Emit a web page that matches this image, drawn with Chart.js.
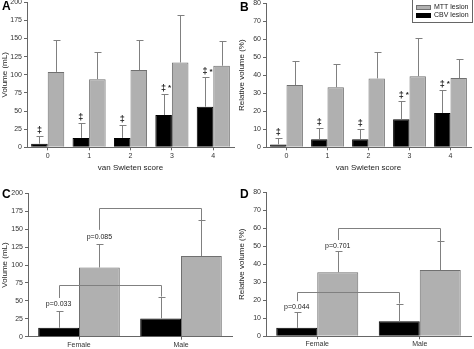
<!DOCTYPE html>
<html>
<head>
<meta charset="utf-8">
<script src="https://cdn.jsdelivr.net/npm/chart.js@4.4.0/dist/chart.umd.min.js"></script>
<style>
  body { margin: 0; background: #fff; width: 474px; height: 349px; overflow: hidden; position: relative; font-family: 'Liberation Sans', Arial, sans-serif; }
  canvas { position: absolute; }
  .letter { position: absolute; font-weight: bold; font-size: 12px; line-height: 12px; color: #000; }
  #legend { position: absolute; left: 412px; top: -1px; width: 59px; height: 22px; border: 1px solid #666; background: #fff; font-size: 7px; color: #222; }
  #legend .row { position: absolute; left: 3px; height: 8px; line-height: 8px; white-space: nowrap; }
  #legend .sw { display: inline-block; width: 13px; height: 3px; margin-right: 3px; vertical-align: middle; }
</style>
</head>
<body>
<canvas id="chartA" width="237" height="175" style="left:0;top:0"></canvas>
<canvas id="chartB" width="237" height="175" style="left:237px;top:0"></canvas>
<canvas id="chartC" width="237" height="174" style="left:0;top:175px"></canvas>
<canvas id="chartD" width="237" height="174" style="left:237px;top:175px"></canvas>

<div class="letter" style="left:2px;top:0">A</div>
<div class="letter" style="left:240px;top:1px">B</div>
<div class="letter" style="left:2px;top:188px">C</div>
<div class="letter" style="left:240px;top:188px">D</div>

<div id="legend">
  <div class="row" style="top:3px"><span class="sw" style="background:#b0b0b0;border:1px solid #707070"></span>MTT lesion</div>
  <div class="row" style="top:11px"><span class="sw" style="background:#000;border:1px solid #000"></span>CBV lesion</div>
</div>

<script>
// van Swieten score groups
const scores = ['0', '1', '2', '3', '4'];
const sexes = ['Female', 'Male'];

// A: absolute volume (mL) by score
const cbvVolScore = [5, 13, 13, 44.5, 56];
const cbvVolScoreErr = [15.5, 33, 30.5, 73.5, 96.5];
const mttVolScore = [104, 94, 106.5, 117, 112.5];
const mttVolScoreErr = [147.5, 132, 147.5, 183, 147];

// B: relative volume (%) by score
const cbvRelScore = [1.6, 4.4, 4.4, 15.5, 19];
const cbvRelScoreErr = [4.9, 10.5, 10.4, 25.9, 32];
const mttRelScore = [34.5, 33.3, 38.2, 39.4, 38.4];
const mttRelScoreErr = [48.1, 46.4, 52.9, 60.4, 48.8];

// markers above the CBV bars
const scoreMarks = ['‡', '‡', '‡', '‡*', '‡*'];

// C: absolute volume (mL) by sex
const cbvVolSex = [12.5, 25.5];
const cbvVolSexErr = [36.5, 56];
const mttVolSex = [96.5, 112.5];
const mttVolSexErr = [129.5, 162.5];
const bracketLevelC = [72, 180];
const bracketLeftEndC = [54, 149];
const bracketRightEndC = [56, 162.5];
const pTextC = ['p=0.033', 'p=0.085'];
const pAtC = [45.6, 138.6];

// D: relative volume (%) by sex
const cbvRelSex = [4.7, 8.3];
const cbvRelSexErr = [13.6, 18.2];
const mttRelSex = [35.6, 36.8];
const mttRelSexErr = [47.4, 52.8];
const bracketLevelD = [24.4, 60];
const bracketLeftEndD = [19.5, 53.5];
const bracketRightEndD = [18.2, 52.8];
const pTextD = ['p=0.044', 'p=0.701'];
const pAtD = [16.5, 50.3];

const FONT = "'Liberation Sans', Arial, sans-serif";
const AXIS = '#666';
const GREY = '#b0b0b0';
const GREY_EDGE = '#707070';
const ERR = '#808080';

const crisp = v => Math.round(v) + 0.5;

// error bars, significance marks, brackets and p values
const extrasPlugin = {
  id: 'extras',
  afterDatasetsDraw(chart, args, opts) {
    const { ctx } = chart;
    const y = chart.scales.y;
    ctx.save();
    ctx.lineWidth = 1;
    ctx.strokeStyle = ERR;

    chart.data.datasets.forEach((ds, di) => {
      const meta = chart.getDatasetMeta(di);
      meta.data.forEach((bar, i) => {
        const x = crisp(bar.x);
        const yt = crisp(y.getPixelForValue(ds.errorTop[i]));
        ctx.beginPath();
        ctx.moveTo(x, bar.y);
        ctx.lineTo(x, yt);
        ctx.moveTo(x - 3, yt);
        ctx.lineTo(x + 4, yt);
        ctx.stroke();
      });
    });

    if (opts.marks) {
      const ds = chart.data.datasets[0];
      const meta = chart.getDatasetMeta(0);
      ctx.fillStyle = '#222';
      ctx.textBaseline = 'bottom';
      ctx.textAlign = 'center';
      opts.marks.forEach((m, i) => {
        const bar = meta.data[i];
        const yt = y.getPixelForValue(ds.errorTop[i]) - 1;
        ctx.font = 'bold 9px ' + FONT;
        ctx.fillText('‡', bar.x, yt);
        if (m.includes('*')) {
          ctx.font = 'bold 8px ' + FONT;
          ctx.fillText('*', bar.x + 6, yt - 1);
        }
      });
    }

    if (opts.brackets) {
      const b = opts.brackets;
      ctx.strokeStyle = ERR;
      b.level.forEach((lvl, k) => {
        const meta = chart.getDatasetMeta(k);
        const lx = crisp(meta.data[0].x);
        const rx = crisp(meta.data[1].x);
        const ly = crisp(y.getPixelForValue(lvl));
        ctx.beginPath();
        ctx.moveTo(lx, y.getPixelForValue(b.leftEnd[k]));
        ctx.lineTo(lx, ly);
        ctx.lineTo(rx, ly);
        ctx.lineTo(rx, y.getPixelForValue(b.rightEnd[k]));
        ctx.stroke();
      });
      ctx.fillStyle = '#222';
      ctx.font = '7px ' + FONT;
      ctx.textAlign = 'center';
      ctx.textBaseline = 'middle';
      b.text.forEach((t, k) => {
        const bar = chart.getDatasetMeta(k).data[0];
        ctx.fillText(t, bar.x, y.getPixelForValue(b.at[k]));
      });
    }
    ctx.restore();
  }
};

function makePanel(id, cfg) {
  return new Chart(document.getElementById(id), {
    type: 'bar',
    data: {
      labels: cfg.labels,
      datasets: [
        { label: 'CBV lesion', data: cfg.cbv, errorTop: cfg.cbvErr, backgroundColor: '#000', borderColor: '#000', borderWidth: 1 },
        { label: 'MTT lesion', data: cfg.mtt, errorTop: cfg.mttErr, backgroundColor: GREY, borderColor: GREY_EDGE, borderWidth: 1 }
      ]
    },
    options: {
      responsive: false,
      animation: false,
      layout: { padding: { left: 0, top: cfg.top, right: cfg.right, bottom: 0 } },
      datasets: { bar: { categoryPercentage: 0.8, barPercentage: 1.0 } },
      plugins: {
        legend: { display: false },
        tooltip: { enabled: false },
        extras: { marks: cfg.marks, brackets: cfg.brackets }
      },
      scales: {
        x: {
          offset: true,
          grid: { display: true, drawOnChartArea: false, offset: false, tickLength: 3, color: AXIS },
          border: { color: AXIS },
          ticks: { font: { size: 7, family: FONT }, color: '#333', padding: cfg.xPad },
          title: { display: !!cfg.xTitle, text: cfg.xTitle, font: { size: 8, family: FONT }, color: '#222', padding: { top: 0, bottom: 2 } },
          afterFit: s => { s.height = cfg.xH; }
        },
        y: {
          min: 0,
          max: cfg.max,
          grid: { display: true, drawOnChartArea: false, tickLength: 3, color: AXIS },
          border: { color: AXIS },
          ticks: { stepSize: cfg.step, font: { size: 7, family: FONT }, color: '#333', padding: 2 },
          title: { display: true, text: cfg.yTitle, font: { size: 8, family: FONT }, color: '#222', padding: { top: 0, bottom: 0 } },
          afterFit: s => { s.width = cfg.yW; s.paddingTop = 0; s.paddingBottom = 0; }
        }
      }
    },
    plugins: [extrasPlugin]
  });
}

makePanel('chartA', {
  labels: scores, cbv: cbvVolScore, cbvErr: cbvVolScoreErr, mtt: mttVolScore, mttErr: mttVolScoreErr,
  marks: scoreMarks, max: 200, step: 25, yTitle: 'Volume (mL)', xTitle: 'van Swieten score',
  yW: 27, top: 2.3, right: 3, xH: 27.7, xPad: 2
});

makePanel('chartB', {
  labels: scores, cbv: cbvRelScore, cbvErr: cbvRelScoreErr, mtt: mttRelScore, mttErr: mttRelScoreErr,
  marks: scoreMarks, max: 80, step: 10, yTitle: 'Relative volume (%)', xTitle: 'van Swieten score',
  yW: 29, top: 3, right: 3, xH: 27.7, xPad: 2
});

makePanel('chartC', {
  labels: sexes, cbv: cbvVolSex, cbvErr: cbvVolSexErr, mtt: mttVolSex, mttErr: mttVolSexErr,
  brackets: { level: bracketLevelC, leftEnd: bracketLeftEndC, rightEnd: bracketRightEndC, text: pTextC, at: pAtC },
  max: 200, step: 25, yTitle: 'Volume (mL)', xTitle: '',
  yW: 28, top: 18.3, right: 5, xH: 12.3, xPad: 1
});

makePanel('chartD', {
  labels: sexes, cbv: cbvRelSex, cbvErr: cbvRelSexErr, mtt: mttRelSex, mttErr: mttRelSexErr,
  brackets: { level: bracketLevelD, leftEnd: bracketLeftEndD, rightEnd: bracketRightEndD, text: pTextD, at: pAtD },
  max: 80, step: 10, yTitle: 'Relative volume (%)', xTitle: '',
  yW: 29, top: 17.3, right: 3, xH: 12.7, xPad: 1
});
</script>
</body>
</html>
